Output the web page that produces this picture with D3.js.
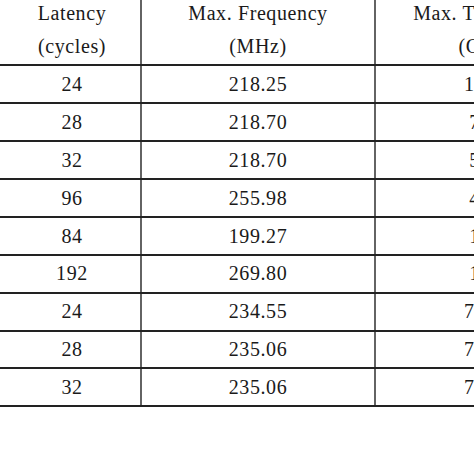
<!DOCTYPE html><html><head><meta charset="utf-8"><script src="https://cdn.jsdelivr.net/npm/d3@7"></script>
<style>body{margin:0;background:#fff;overflow:hidden}</style></head><body><svg width="474" height="474"></svg><script>
const headers1=["Latency","Max. Frequency","Max. Throughput"];
const headers2=["(cycles)","(MHz)","(Gbps)"];
const latency=["24","28","32","96","84","192","24","28","32"];
const freq=["218.25","218.70","218.70","255.98","199.27","269.80","234.55","235.06","235.06"];
const thr=["13.97","7.00","5.47","4.10","1.59","1.08","75.06","75.22","75.22"];
const svg=d3.select("svg");
const colX=d3.scaleOrdinal().domain([0,1,2]).range([72,258,488]);
const rowLines=[65,103,141,179,217,255,293,331,368,406];
const y=d3.scaleBand().domain(d3.range(9)).range([65,406]);
const font="'Liberation Serif',serif";
svg.selectAll("line.h").data(rowLines).join("line").attr("x1",0).attr("x2",474).attr("y1",d=>d).attr("y2",d=>d).attr("stroke","#222").attr("stroke-width",1.8);
[141,375].forEach(x=>svg.append("line").attr("x1",x).attr("x2",x).attr("y1",0).attr("y2",406).attr("stroke","#222").attr("stroke-width",1.4));
function txt(x,yy,t){svg.append("text").attr("x",x).attr("y",yy).attr("text-anchor","middle").attr("font-family",font).attr("font-size",20).attr("letter-spacing","0.6px").attr("textLength",null).attr("fill","#1a1a1a").text(t);}
headers1.forEach((h,i)=>txt(colX(i),20,h));
headers2.forEach((h,i)=>txt(colX(i),53,h));
const cols=[latency,freq,thr];
cols.forEach((c,i)=>c.forEach((v,r)=>txt(colX(i),y(r)+y.bandwidth()/2+7,v)));
</script></body></html>
